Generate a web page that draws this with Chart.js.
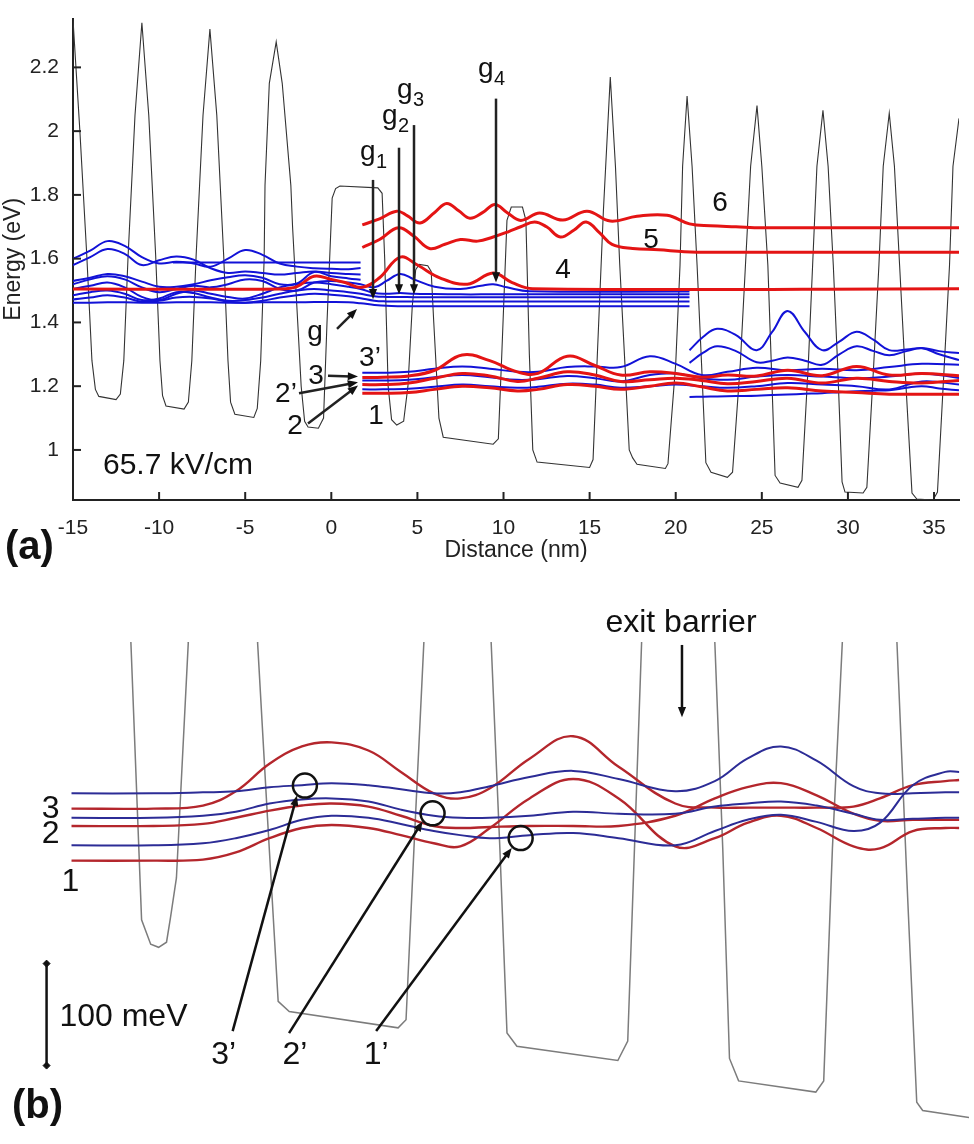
<!DOCTYPE html>
<html>
<head>
<meta charset="utf-8">
<script src="https://cdn.jsdelivr.net/npm/chart.js@4.4.1/dist/chart.umd.min.js"></script>
<style>
  body { margin: 0; background: #fff; }
  #wrap { position: relative; width: 974px; height: 1144px; }
  #chartA { position: absolute; left: 0; top: 0; }
  #chartB { position: absolute; left: 0; top: 572px; }
</style>
</head>
<body>
<div id="wrap">
  <canvas id="chartA" width="974" height="572"></canvas>
  <canvas id="chartB" width="974" height="572"></canvas>
</div>
<script>
// ---------- panel (a): band profile and states, 65.7 kV/cm ----------
const xTicksA = [-15, -10, -5, 0, 5, 10, 15, 20, 25, 30, 35];
const yTicksA = [1, 1.2, 1.4, 1.6, 1.8, 2, 2.2];

// conduction band edge (nm, eV)
const potentialA = [
  [-15,2.35],[-14.6,2.0],[-14.2,1.61],[-13.9,1.28],[-13.7,1.19],[-13.5,1.168],[-12.5,1.158],[-12.25,1.175],
  [-12.05,1.28],[-11.8,1.61],[-11.4,2.05],[-11.0,2.34],[-10.6,2.05],[-10.2,1.61],[-9.95,1.28],[-9.8,1.17],
  [-9.6,1.138],[-8.55,1.128],[-8.3,1.15],[-8.1,1.28],[-7.85,1.61],[-7.45,2.05],[-7.05,2.32],[-6.65,2.05],
  [-6.25,1.61],[-6.0,1.28],[-5.85,1.15],[-5.6,1.112],[-4.5,1.102],[-4.3,1.13],[-4.1,1.28],[-3.9,1.6],
  [-3.85,1.83],[-3.6,2.15],[-3.2,2.28],[-2.85,2.15],[-2.35,1.83],[-2.25,1.7],[-1.95,1.4],[-1.75,1.2],
  [-1.55,1.09],[-1.35,1.072],[-0.75,1.068],[-0.45,1.1],[-0.25,1.4],[0.05,1.79],[0.25,1.82],[0.5,1.828],
  [2.7,1.822],[2.95,1.805],[3.1,1.6],[3.3,1.2],[3.5,1.095],[3.8,1.078],[4.2,1.09],[4.45,1.2],
  [4.7,1.45],[4.9,1.565],[5.1,1.582],[5.6,1.578],[5.8,1.56],[5.95,1.4],[6.25,1.1],[6.5,1.04],
  [9.4,1.018],[9.7,1.035],[9.9,1.3],[10.2,1.72],[10.45,1.762],[11.1,1.762],[11.3,1.72],[11.5,1.3],
  [11.7,1.0],[11.95,0.962],[15.0,0.945],[15.2,0.97],[15.45,1.3],[15.8,1.75],[16.2,2.17],[16.5,1.89],
  [16.75,1.58],[17.05,1.27],[17.3,1.0],[17.5,0.975],[17.75,0.955],[19.4,0.942],[19.55,0.957],[20.0,1.27],
  [20.25,1.58],[20.4,1.89],[20.66,2.11],[20.95,1.89],[21.24,1.58],[21.5,1.27],[21.75,0.96],[22.05,0.93],
  [23.0,0.914],[23.3,0.93],[23.75,1.27],[24.05,1.58],[24.35,1.89],[24.72,2.08],[25.0,1.89],[25.35,1.58],
  [25.55,1.27],[25.77,0.92],[26.06,0.896],[27.1,0.883],[27.33,0.905],[27.7,1.27],[27.95,1.58],[28.2,1.89],
  [28.55,2.065],[28.85,1.89],[29.15,1.58],[29.4,1.27],[29.66,0.9],[29.83,0.868],[30.88,0.865],[31.1,0.883],
  [31.5,1.27],[31.8,1.58],[32.05,1.89],[32.4,2.056],[32.7,1.89],[33.0,1.58],[33.3,1.27],[33.72,0.865],
  [34.0,0.846],[34.94,0.843],[35.2,0.868],[35.6,1.27],[35.9,1.58],[36.1,1.89],[36.45,2.04]
];

// injector states on the left
const leftX = [-15,-14,-13,-12,-11,-10,-9,-8,-7,-6,-5,-4,-3,-2,-1,0,1,1.7];
const blueTop1 = [1.600,1.625,1.655,1.640,1.605,1.585,1.590,1.585,1.575,1.600,1.627,1.612,1.585,1.575,1.570,1.568,1.567,1.571];
const blueTop2 = [1.580,1.605,1.630,1.615,1.580,1.595,1.607,1.597,1.570,1.555,1.560,1.555,1.550,1.555,1.560,1.555,1.552,1.550];
const blueTop3 = [1.530,1.540,1.552,1.545,1.528,1.512,1.512,1.520,1.532,1.542,1.548,1.540,1.520,1.522,1.558,1.545,1.538,1.534];
const flatX = [-9.2, 1.7];
const blueFlat = [1.588, 1.588];

// states running into the g levels
const gX = [-15,-14,-13,-12,-11,-10,-9,-8,-7,-6,-5,-4,-3,-2,-1,0,1,1.7,2.5,3.2,4,4.8,6,7.5,8.7,9.4,10.2,11.5,20.8];
const gBlue1 = [1.520,1.535,1.545,1.535,1.510,1.495,1.505,1.515,1.510,1.520,1.535,1.530,1.505,1.500,1.525,1.530,1.525,1.520,1.510,1.530,1.552,1.535,1.512,1.505,1.515,1.520,1.510,1.498,1.497];
const gBlue2 = [1.505,1.515,1.525,1.510,1.480,1.470,1.490,1.500,1.490,1.480,1.475,1.490,1.510,1.520,1.525,1.520,1.512,1.505,1.492,1.490,1.492,1.490,1.489,1.488,1.488,1.488,1.488,1.488,1.488];
const gBlue3 = [1.485,1.495,1.500,1.490,1.470,1.475,1.495,1.492,1.478,1.468,1.470,1.478,1.490,1.500,1.505,1.500,1.495,1.490,1.482,1.480,1.480,1.479,1.479,1.479,1.479,1.479,1.479,1.479,1.479];
const gBlue4 = [1.472,1.478,1.485,1.478,1.465,1.468,1.478,1.480,1.475,1.465,1.462,1.468,1.478,1.485,1.490,1.487,1.482,1.476,1.468,1.466,1.466,1.466,1.466,1.466,1.466,1.466,1.466,1.466,1.466];
const gBlue5 = [1.462,1.462,1.463,1.463,1.462,1.462,1.463,1.463,1.463,1.462,1.462,1.463,1.463,1.463,1.464,1.464,1.463,1.460,1.455,1.452,1.451,1.451,1.451,1.451,1.451,1.451,1.451,1.451,1.451];

// upper laser states 4, 5, 6
const red4X = [-15,-3,-2,-1,0,0.8,1.8,2.8,4,5,6.3,7.9,9.4,10.5,11.7,36.45];
const red4E = [1.505,1.505,1.512,1.545,1.535,1.525,1.510,1.540,1.605,1.580,1.540,1.520,1.555,1.525,1.506,1.506];
const red5X = [1.8,2.8,3.9,4.8,5.7,6.6,7.5,8.5,9.4,10.3,11.0,11.8,12.5,13.3,14.1,14.8,15.6,16.3,17.5,19,20.5,22,36.45];
const red5E = [1.635,1.660,1.697,1.670,1.632,1.645,1.660,1.655,1.668,1.685,1.700,1.715,1.700,1.668,1.690,1.715,1.680,1.645,1.632,1.628,1.622,1.620,1.620];
const red6X = [1.8,2.8,3.8,4.4,5.15,6,6.7,7.4,8.05,8.8,9.5,10.2,11,12.1,13.45,14.85,16.2,17.75,19.5,20.8,22,23.5,25,36.45];
const red6E = [1.706,1.725,1.749,1.735,1.712,1.745,1.773,1.750,1.727,1.745,1.770,1.745,1.720,1.743,1.721,1.749,1.718,1.733,1.736,1.709,1.703,1.700,1.697,1.697];

// lower states 1, 2, 3 (red) and 1', 2', 3' (blue)
const lowX = [1.8,3,4.5,6,7.6,9.2,10.8,12,13.7,15.3,16.8,18.5,20,21.5,23,24.7,26.5,28.5,30.5,32.4,34.3,36.45];
const red3Low = [1.227,1.228,1.232,1.250,1.298,1.280,1.245,1.240,1.294,1.265,1.235,1.245,1.240,1.228,1.235,1.232,1.250,1.233,1.262,1.235,1.240,1.233];
const red2Low = [1.205,1.205,1.210,1.225,1.240,1.232,1.215,1.225,1.245,1.235,1.215,1.220,1.225,1.218,1.208,1.215,1.225,1.210,1.225,1.215,1.210,1.218];
const red1Low = [1.178,1.178,1.180,1.190,1.200,1.195,1.185,1.190,1.205,1.200,1.190,1.200,1.210,1.198,1.185,1.190,1.195,1.185,1.180,1.175,1.175,1.175];
const blue3Low = [1.242,1.242,1.245,1.255,1.262,1.255,1.245,1.245,1.260,1.262,1.260,1.294,1.270,1.235,1.245,1.258,1.250,1.255,1.250,1.260,1.270,1.267];
const blue2Low = [1.218,1.218,1.220,1.228,1.235,1.228,1.220,1.222,1.232,1.225,1.215,1.235,1.240,1.225,1.220,1.230,1.235,1.230,1.225,1.230,1.240,1.226];
const blue1Low = [1.190,1.190,1.192,1.198,1.205,1.200,1.195,1.198,1.208,1.205,1.195,1.200,1.205,1.200,1.195,1.200,1.210,1.205,1.200,1.190,1.215,1.205];

// next-period states on the right
const rightX = [20.8,21.6,22.4,23.5,24.7,25.6,26.5,27.5,28.5,29.5,30.5,31.5,32.4,33.4,34.3,35.3,36.45];
const blueR1 = [1.313,1.355,1.380,1.360,1.313,1.370,1.436,1.370,1.313,1.340,1.371,1.345,1.313,1.315,1.320,1.310,1.304];
const blueR2 = [1.273,1.305,1.325,1.310,1.275,1.280,1.290,1.280,1.267,1.300,1.325,1.310,1.297,1.310,1.319,1.300,1.282];
const blueR3 = [1.166,1.167,1.168,1.169,1.170,1.172,1.174,1.176,1.178,1.181,1.184,1.186,1.187,1.195,1.200,1.193,1.187];

// ---------- panel (b): close-up of states 1-3 (x in nm, y in meV) ----------
const potentialB = [
  [3.13,560],[3.18,487],[3.45,215],[3.68,191],[3.88,188],[4.08,193],[4.18,217],[4.33,256],[4.63,487],[4.68,560],
  [6.33,560],[6.38,487],[6.63,315],[6.9,135],[7.18,125],[9.93,109],[10.13,117],[10.33,285],[10.58,487],[10.63,560],
  [12.23,560],[12.28,487],[12.5,285],[12.68,104],[12.93,91],[15.48,77],[15.73,96],[15.9,285],[16.08,487],[16.13,560],
  [17.88,560],[17.93,487],[18.13,285],[18.3,79],[18.53,57],[20.48,46],[20.68,57],[20.9,285],[21.15,487],[21.2,560],
  [22.48,560],[22.53,487],[22.8,237],[23.03,36],[23.18,28],[24.35,21]
];
const bX = [1.68,3.75,5.0,5.83,6.68,7.5,8.25,9.18,10.0,10.83,11.5,12.25,13.25,14.35,15.5,16.93,17.93,18.75,19.6,20.5,21.43,22.1,22.93,23.75,24.1];
const bBlue3 = [339,339,340,341,345,347,349,347,343,339,340,346,355,361,353,341,351,373,385,371,346,339,339,340,340];
const bRed3  = [324,324,327,341,368,385,389,381,360,339,334,344,373,395,365,329,325,325,325,325,326,334,347,351,352];
const bBlue2 = [315,315,317,321,329,333,334,331,323,317,315,315,317,321,319,319,326,329,331,327,319,313,314,315,315];
const bRed2  = [307,307,309,315,322,327,329,326,317,307,305,306,307,307,307,317,334,345,349,337,319,312,313,313,313];
const bBlue1 = [288,288,290,295,303,313,317,315,309,302,298,295,298,300,295,288,302,313,318,311,302,310,347,360,360];
const bRed1  = [273,273,274,281,295,305,308,305,298,290,287,305,334,353,334,287,295,310,317,305,287,285,302,305,305];
const scaleBarX = [1.05, 1.05];
const scaleBarE = [72, 172];

// ---------- helpers ----------
Chart.defaults.font.family = '"Liberation Sans", Arial, sans-serif';
const pts = (xs, ys) => xs.map((x, i) => ({x: x, y: ys[i]}));
const pairs = arr => arr.map(p => ({x: p[0], y: p[1]}));

const BLUE = 'rgb(18,18,215)';
const RED = 'rgb(228,20,20)';
function state(xs, ys, color, w) {
  return {data: pts(xs, ys), borderColor: color, borderWidth: w, pointRadius: 0, tension: 0.4, fill: false};
}

function arrow(ctx, x1, y1, x2, y2, head) {
  const a = Math.atan2(y2 - y1, x2 - x1);
  ctx.beginPath();
  ctx.moveTo(x1, y1);
  ctx.lineTo(x2 - Math.cos(a) * head * 0.6, y2 - Math.sin(a) * head * 0.6);
  ctx.stroke();
  ctx.beginPath();
  ctx.moveTo(x2, y2);
  ctx.lineTo(x2 - head * Math.cos(a - 0.38), y2 - head * Math.sin(a - 0.38));
  ctx.lineTo(x2 - head * Math.cos(a + 0.38), y2 - head * Math.sin(a + 0.38));
  ctx.closePath();
  ctx.fill();
}
function text(ctx, s, x, y, size, align, bold) {
  ctx.font = (bold ? 'bold ' : '') + size + 'px "Liberation Sans", Arial, sans-serif';
  ctx.textAlign = align || 'center';
  ctx.textBaseline = 'alphabetic';
  ctx.fillText(s, x, y);
}

// annotation anchors (data coordinates)
const gLabelsA = [[1.667, 1.911, '1'], [2.944, 2.022, '2'], [3.815, 2.105, '3'], [8.519, 2.169, '4']];
const gArrowsA = [[2.422, 1.847, 2.422, 1.473], [3.931, 1.948, 3.931, 1.488], [4.802, 2.019, 4.802, 1.488], [9.564, 2.102, 9.564, 1.525]];
const labelsA = [['g', -0.947, 1.344], ['3\u2019', 2.247, 1.264], ['3', -0.888, 1.206], ['2\u2019', -2.631, 1.150],
                 ['2', -2.108, 1.049], ['1', 2.596, 1.080], ['4', 13.455, 1.540], ['5', 18.566, 1.635], ['6', 22.573, 1.749]];
const arrowsA = [[0.331, 1.380, 1.492, 1.442], [-0.192, 1.233, 1.551, 1.230], [-1.876, 1.178, 1.551, 1.212], [-1.353, 1.083, 1.551, 1.202]];

const labelsB = [['3', 1.15, 314.6], ['2', 1.15, 290.3], ['1', 1.65, 243.7],
                 ['3\u2019', 5.525, 73.8], ['2\u2019', 7.325, 73.8], ['1\u2019', 9.375, 73.8], ['exit barrier', 17.075, 497]];
const arrowsB = [[5.75, 105.8, 7.375, 336.9], [7.175, 103.9, 10.55, 311.7], [9.375, 105.8, 12.8, 285.4], [17.1, 484.5, 17.1, 413.6]];
const circlesB = [[7.575, 346.6], [10.8, 319.4], [13.025, 295.1]];

const annotA = {
  id: 'annotA',
  afterDraw(chart) {
    const ctx = chart.ctx, sx = chart.scales.x, sy = chart.scales.y, area = chart.chartArea;
    const X = v => sx.getPixelForValue(v), Y = v => sy.getPixelForValue(v);
    ctx.save();
    ctx.strokeStyle = '#222';
    ctx.fillStyle = '#111';
    ctx.lineWidth = 2;
    // inward tick marks
    xTicksA.forEach(v => { ctx.beginPath(); ctx.moveTo(X(v), area.bottom); ctx.lineTo(X(v), area.bottom - 8); ctx.stroke(); });
    yTicksA.forEach(v => { ctx.beginPath(); ctx.moveTo(area.left, Y(v)); ctx.lineTo(area.left + 8, Y(v)); ctx.stroke(); });
    // arrows
    ctx.lineWidth = 2.5;
    gArrowsA.concat(arrowsA).forEach(a => arrow(ctx, X(a[0]), Y(a[1]), X(a[2]), Y(a[3]), 11));
    // labels
    gLabelsA.forEach(g => {
      text(ctx, 'g', X(g[0]), Y(g[1]), 28, 'left');
      text(ctx, g[2], X(g[0]) + 16, Y(g[1]) + 8, 20, 'left');
    });
    labelsA.forEach(l => text(ctx, l[0], X(l[1]), Y(l[2]), 28, 'center'));
    text(ctx, '65.7 kV/cm', X(-13.258), Y(0.926), 30, 'left');
    text(ctx, '(a)', X(-18.95), Y(0.659), 40, 'left', true);
    ctx.restore();
  }
};

const annotB = {
  id: 'annotB',
  afterDraw(chart) {
    const ctx = chart.ctx, sx = chart.scales.x, sy = chart.scales.y;
    const X = v => sx.getPixelForValue(v), Y = v => sy.getPixelForValue(v);
    ctx.save();
    ctx.strokeStyle = '#111';
    ctx.fillStyle = '#111';
    ctx.lineWidth = 2.5;
    arrowsB.forEach(a => arrow(ctx, X(a[0]), Y(a[1]), X(a[2]), Y(a[3]), 11));
    circlesB.forEach(c => { ctx.beginPath(); ctx.arc(X(c[0]), Y(c[1]), 12, 0, Math.PI * 2); ctx.stroke(); });
    labelsB.forEach(l => text(ctx, l[0], X(l[1]), Y(l[2]), 32, 'center'));
    text(ctx, '100 meV', X(1.375), Y(110.7), 32, 'left');
    text(ctx, '(b)', X(0.175), Y(20.4), 40, 'left', true);
    ctx.restore();
  }
};

// ---------- chart (a) ----------
new Chart(document.getElementById('chartA').getContext('2d'), {
  type: 'line',
  data: {
    datasets: [
      state(red6X, red6E, RED, 3),
      state(red5X, red5E, RED, 3),
      state(lowX, red3Low, RED, 3),
      state(lowX, red2Low, RED, 3),
      state(lowX, red1Low, RED, 3),
      state(red4X, red4E, RED, 3),
      state(leftX, blueTop1, BLUE, 2),
      state(leftX, blueTop2, BLUE, 2),
      state(leftX, blueTop3, BLUE, 2),
      state(flatX, blueFlat, BLUE, 2),
      state(gX, gBlue1, BLUE, 2),
      state(gX, gBlue2, BLUE, 2),
      state(gX, gBlue3, BLUE, 2),
      state(gX, gBlue4, BLUE, 2),
      state(gX, gBlue5, BLUE, 2),
      state(lowX, blue3Low, BLUE, 2),
      state(lowX, blue2Low, BLUE, 2),
      state(lowX, blue1Low, BLUE, 2),
      state(rightX, blueR1, BLUE, 2),
      state(rightX, blueR2, BLUE, 2),
      state(rightX, blueR3, BLUE, 2),
      {data: pairs(potentialA), borderColor: '#333', borderWidth: 1.1, pointRadius: 0, tension: 0, fill: false}
    ]
  },
  options: {
    responsive: false,
    animation: false,
    events: [],
    layout: {padding: {top: 8, right: 15, left: 0, bottom: 0}},
    plugins: {legend: {display: false}, tooltip: {enabled: false}},
    scales: {
      x: {
        type: 'linear', min: -15, max: 36.45,
        afterBuildTicks: s => { s.ticks = xTicksA.map(v => ({value: v})); },
        afterFit: s => { s.height = 72; },
        grid: {display: false},
        border: {display: true, color: '#222', width: 2},
        ticks: {padding: 8, color: '#222', font: {size: 21}, autoSkip: false, maxRotation: 0, callback: v => String(v)},
        title: {display: true, text: 'Distance (nm)', color: '#222', font: {size: 23}, padding: {top: 0, bottom: 8}}
      },
      y: {
        type: 'linear', min: 0.843, max: 2.353,
        afterBuildTicks: s => { s.ticks = yTicksA.map(v => ({value: v})); },
        afterFit: s => { s.width = 73; },
        grid: {display: false},
        border: {display: true, color: '#222', width: 2},
        ticks: {padding: 6, color: '#222', font: {size: 21}, callback: v => String(v)},
        title: {display: true, text: 'Energy (eV)', color: '#222', font: {size: 23}, padding: {top: 0, bottom: 0}}
      }
    }
  },
  plugins: [annotA]
});

// ---------- chart (b) ----------
const BLUE_B = 'rgb(44,44,150)';
const RED_B = 'rgb(180,38,44)';
new Chart(document.getElementById('chartB').getContext('2d'), {
  type: 'line',
  data: {
    datasets: [
      {data: pts(scaleBarX, scaleBarE), borderColor: '#111', backgroundColor: '#111', borderWidth: 2.5,
       pointStyle: 'rectRot', pointRadius: 3.5, pointBorderWidth: 1, tension: 0},
      state(bX, bBlue3, BLUE_B, 2),
      state(bX, bBlue2, BLUE_B, 2),
      state(bX, bBlue1, BLUE_B, 2),
      state(bX, bRed3, RED_B, 2.4),
      state(bX, bRed2, RED_B, 2.4),
      state(bX, bRed1, RED_B, 2.4),
      {data: pairs(potentialB), borderColor: '#7c7c7c', borderWidth: 1.5, pointRadius: 0, tension: 0, fill: false}
    ]
  },
  options: {
    responsive: false,
    animation: false,
    events: [],
    layout: {padding: {top: 70, right: 0, left: 0, bottom: 0}},
    plugins: {legend: {display: false}, tooltip: {enabled: false}},
    scales: {
      x: {type: 'linear', min: 0, max: 24.35, display: false},
      y: {type: 'linear', min: 0, max: 487.4, display: false}
    }
  },
  plugins: [annotB]
});
</script>
</body>
</html>
